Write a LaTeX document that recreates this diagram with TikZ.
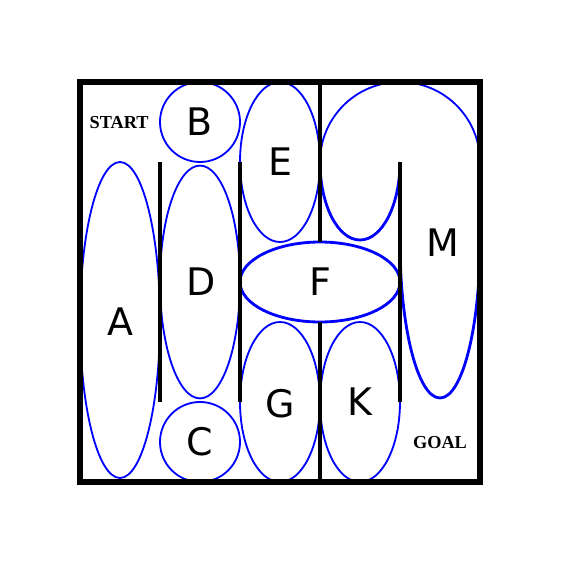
\documentclass[tikz,border=0pt]{standalone}
\usepackage{fontspec}
\setsansfont{DejaVu Sans}
\newfontfamily\signfont{Liberation Serif}
\usetikzlibrary{shapes.geometric}

\begin{document}
\begin{tikzpicture}[x=2cm, y=2cm]
        \tikzstyle{room}=[draw=blue, ellipse, line width=1.3pt, inner sep=0pt, font=\sffamily\fontsize{27}{27}\selectfont]
        \tikzstyle{bigroom}=[room, line width=2pt]
        \tikzstyle{wall}=[line width=2.5pt, black]
        \tikzstyle{sign}=[font=\signfont\bfseries\fontsize{13}{13}\selectfont]
        \useasboundingbox (-1,-1.0125) rectangle (6.0375,6.025);

% The rooms.
        \node[room, minimum width=2cm, minimum height=7.9cm] (A) at (0.5,2.025) {};
        \node[room, circle, minimum size=2cm] (B) at (1.5,4.5) {B};
        \node[room, circle, minimum size=2cm] (C) at (1.5,0.5) {C};
        \node[room, minimum width=2cm, minimum height=5.82cm] (D) at (1.5,2.5) {};
        \node[room, minimum width=2cm, minimum height=4cm] (E) at (2.5,4) {E};
        \node[bigroom, minimum width=4cm, minimum height=2cm] (F) at (3,2.5) {F};
        \node[room, minimum width=2cm, minimum height=4cm] (G) at (2.5,1) {};
        \node[room, minimum width=2cm, minimum height=4cm] (K) at (3.5,1) {K};
        \node[font=\sffamily\fontsize{27}{27}\selectfont] at (0.5,2) {A};
        \node[font=\sffamily\fontsize{27}{27}\selectfont] at (1.52,2.5) {D};
        \node[font=\sffamily\fontsize{27}{27}\selectfont] at (2.5,0.98) {G};

% Room M winds round the wall.
        \draw[blue, line width=1.3pt] (3,4) arc (180:0:1);
        \draw[blue, line width=2pt] (3,4) arc (180:360:0.5 and 0.975);
        \draw[blue, line width=2pt] (4,3) arc (180:360:0.5 and 1.95) -- (5,4);
        \node[font=\sffamily\fontsize{27}{27}\selectfont] (M) at (4.54,2.99) {M};

% The walls of the maze.
        \draw[wall] (1,1) -- (1,4);
        \draw[wall] (2,1) -- (2,4);
        \draw[wall] (3,3) -- (3,5);
        \draw[wall] (3,0) -- (3,2);
        \draw[wall] (4,1) -- (4,4);

        \node[sign] (start) at (0.49,4.49) {START};
        \node[sign] (goal) at (4.5,0.49) {GOAL};

        \draw[line width=3.6pt] (0,0) rectangle (5,5);
    \end{tikzpicture}
\end{document}
